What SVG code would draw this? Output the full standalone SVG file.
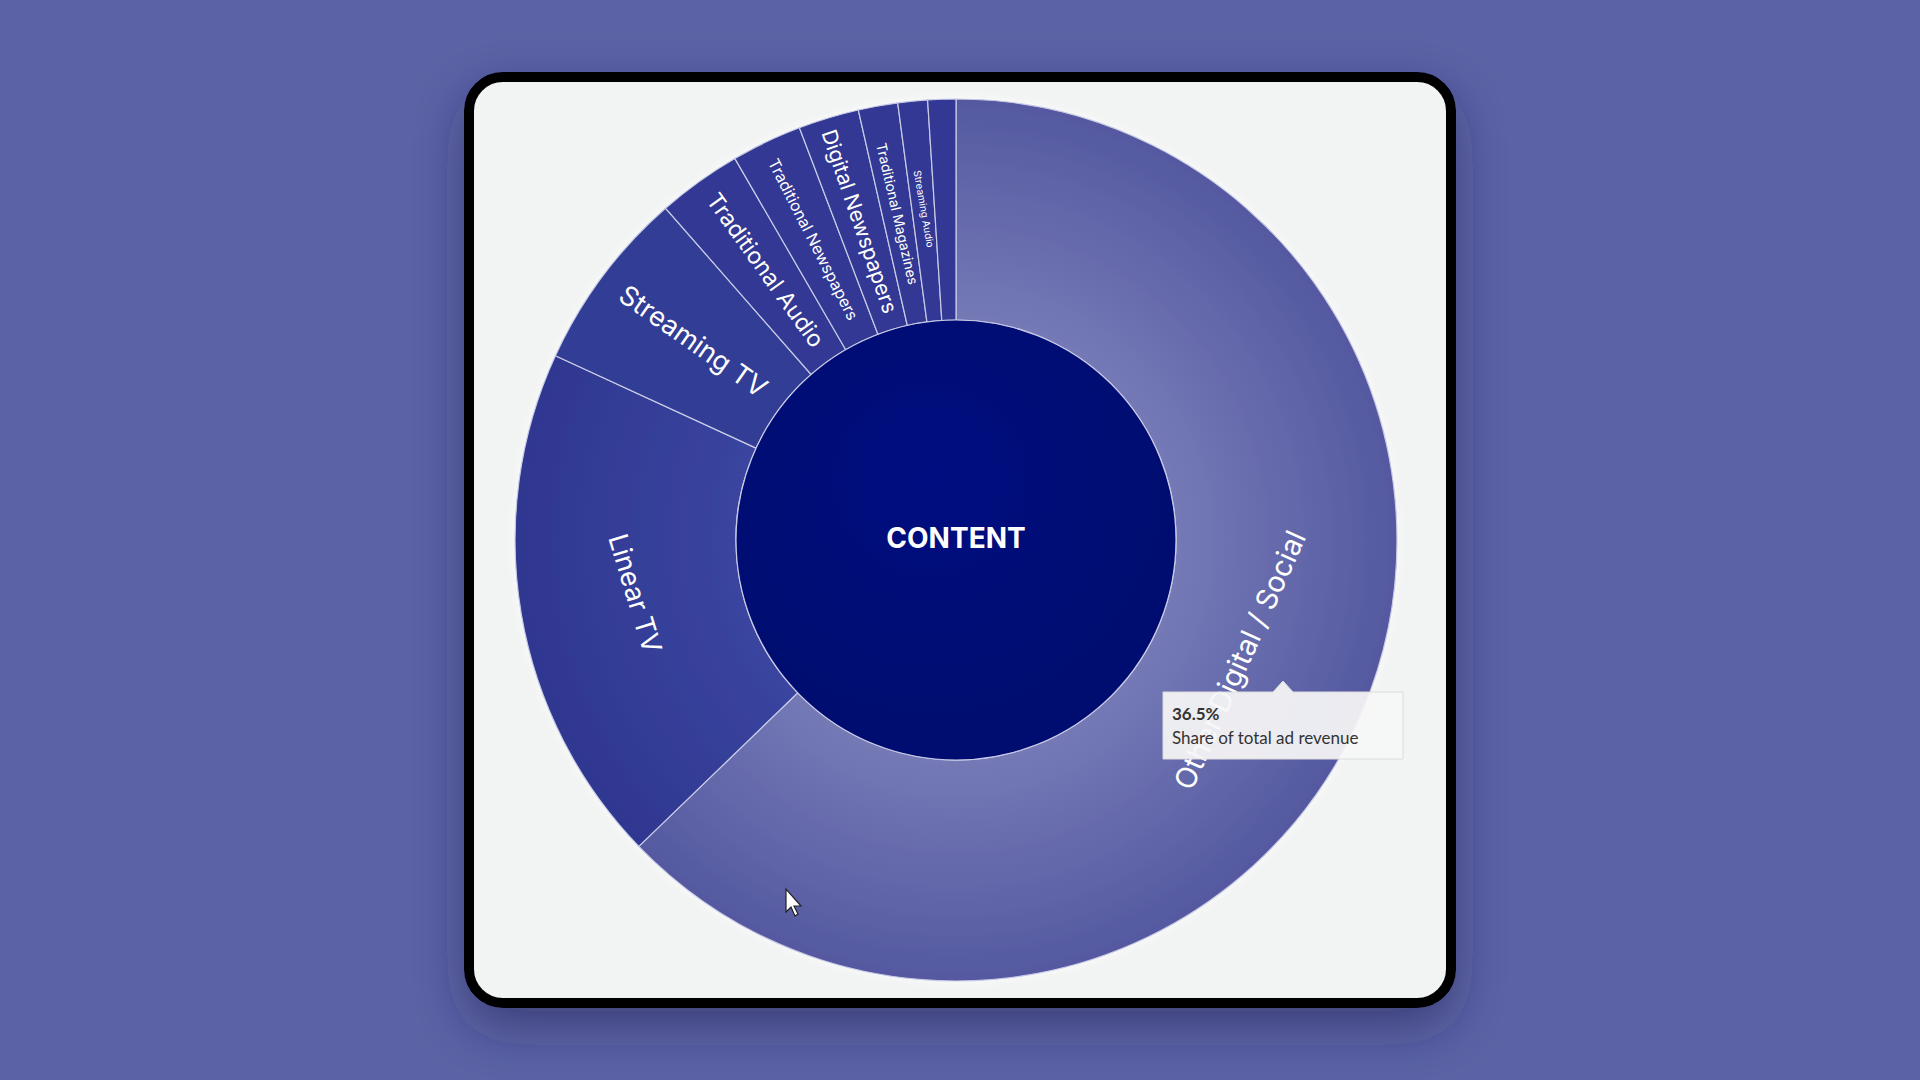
<svg xmlns="http://www.w3.org/2000/svg" width="1920" height="1080" viewBox="0 0 1920 1080">
<defs>
<radialGradient id="gOther" cx="956" cy="540" r="441" gradientUnits="userSpaceOnUse">
<stop offset="0.5" stop-color="#7479b6"/><stop offset="1" stop-color="#5459a0"/></radialGradient>
<radialGradient id="gLin" cx="956" cy="540" r="441" gradientUnits="userSpaceOnUse">
<stop offset="0.5" stop-color="#3a45a0"/><stop offset="1" stop-color="#2f3790"/></radialGradient>
<radialGradient id="gCore" cx="930" cy="480" r="240" gradientUnits="userSpaceOnUse">
<stop offset="0" stop-color="#000c80"/><stop offset="1" stop-color="#000870"/></radialGradient>
<filter id="sh" x="-20%" y="-20%" width="140%" height="140%"><feDropShadow dx="0" dy="20" stdDeviation="25" flood-color="#202050" flood-opacity="0.5"/></filter>
<filter id="glow" x="-10%" y="-10%" width="120%" height="120%"><feDropShadow dx="0" dy="0" stdDeviation="4" flood-color="#fff" flood-opacity="0.8"/></filter>
<style>
.seg{stroke:#c8cbe6;stroke-width:1.2}
.lbl{font-family:"Inter","Liberation Sans",sans-serif;fill:#fff;text-anchor:middle;dominant-baseline:middle}
.tt{font-family:"Lato","Liberation Sans",sans-serif;fill:#333}
</style>
</defs>
<rect width="1920" height="1080" fill="#5b63a6"/>
<rect x="469" y="77" width="982" height="926" rx="34" fill="#f2f3f3" stroke="#050505" stroke-width="10" filter="url(#sh)"/>
<g id="chart" filter="url(#glow)">
<g id="other"><path class="seg" fill="url(#gOther)" d="M956,99 A441,441 0 1 1 638.8,846.4 L797.8,692.8 A220,220 0 1 0 956,320 Z"/></g>
<g id="linear"><path class="seg" fill="url(#gLin)" d="M638.8,846.4 A441,441 0 0 1 555.4,355.7 L756.1,448.1 A220,220 0 0 0 797.8,692.8 Z"/></g>
<g id="stv"><path class="seg" fill="#333d96" d="M555.4,355.7 A441,441 0 0 1 665.5,208.2 L811.1,374.5 A220,220 0 0 0 756.1,448.1 Z"/></g>
<g id="taudio"><path class="seg" fill="#303993" d="M665.5,208.2 A441,441 0 0 1 734.8,158.4 L845.7,349.7 A220,220 0 0 0 811.1,374.5 Z"/></g>
<g id="tnews"><path class="seg" fill="#303993" d="M734.8,158.4 A441,441 0 0 1 799.4,127.8 L877.9,334.3 A220,220 0 0 0 845.7,349.7 Z"/></g>
<g id="dnews"><path class="seg" fill="#303993" d="M799.4,127.8 A441,441 0 0 1 858.3,110 L907.3,325.5 A220,220 0 0 0 877.9,334.3 Z"/></g>
<g id="tmag"><path class="seg" fill="#303993" d="M858.3,110 A441,441 0 0 1 897.7,102.9 L926.9,321.9 A220,220 0 0 0 907.3,325.5 Z"/></g>
<g id="saudio"><path class="seg" fill="#303993" d="M897.7,102.9 A441,441 0 0 1 927.6,99.9 L941.8,320.5 A220,220 0 0 0 926.9,321.9 Z"/></g>
<g id="tiny"><path class="seg" fill="#303993" d="M927.6,99.9 A441,441 0 0 1 956,99 L956,320 A220,220 0 0 0 941.8,320.5 Z"/></g>
<g id="core"><circle cx="956" cy="540" r="220" fill="url(#gCore)" stroke="#c8cbe6" stroke-width="1.2"/></g>
</g>
<g id="labels">
<text class="lbl" x="956" y="540" font-size="28" font-weight="700">CONTENT</text>
<text class="lbl" font-size="27" transform="translate(633,594) rotate(73)">Linear TV</text>
<text class="lbl" font-size="27" transform="translate(692,343) rotate(35)">Streaming TV</text>
<text class="lbl" font-size="23" transform="translate(764,271) rotate(54.4)">Traditional Audio</text>
<text class="lbl" font-size="16" transform="translate(812,240) rotate(63)">Traditional Newspapers</text>
<text class="lbl" font-size="21" transform="translate(858,222) rotate(71)">Digital Newspapers</text>
<text class="lbl" font-size="14" transform="translate(896,214) rotate(77)">Traditional Magazines</text>
<text class="lbl" font-size="10" transform="translate(923,209) rotate(80)">Streaming Audio</text>
<text class="lbl" font-size="29" transform="translate(1242,661) rotate(-65.8)">Other Digital / Social</text>
</g>
<g id="tooltip">
<path d="M1163,692 H1273 L1283,681 L1293,692 H1403 V759 H1163 Z" fill="#f6f6f6" fill-opacity="0.93" stroke="#dcdcdc"/>
<text class="tt" x="1172" y="720" font-size="17" font-weight="700">36.5%</text>
<text class="tt" x="1172" y="744" font-size="17">Share of total ad revenue</text>
</g>
<path d="M786,889 L786,912 L791,907 L795,916 L798,914 L794,906 L801,906 Z" fill="#fff" stroke="#222" stroke-width="1.2"/>
</svg>
